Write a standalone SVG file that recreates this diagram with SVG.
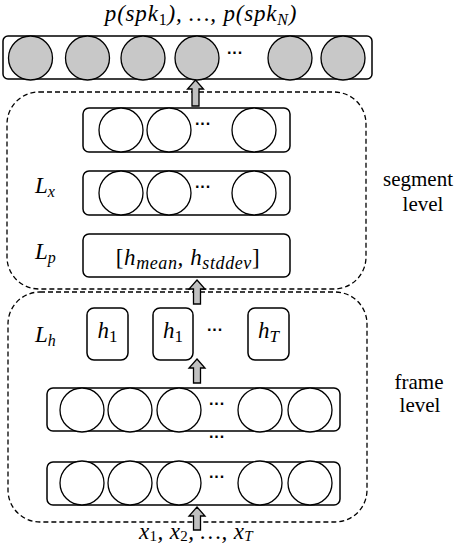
<svg xmlns="http://www.w3.org/2000/svg" width="458" height="546" viewBox="0 0 458 546">
<style>
.box{fill:#fff;stroke:#000;stroke-width:1.5}
.dash{fill:none;stroke:#000;stroke-width:1.3;stroke-dasharray:5 3}
.c{fill:#fff;stroke:#000;stroke-width:1.3}
.g{fill:#c8c8c8;stroke:#000;stroke-width:1.3}
.arr{fill:#c0c0c0;stroke:#000;stroke-width:1.3;stroke-linejoin:miter}
.m{font-family:"Liberation Serif","DejaVu Serif",serif;font-style:italic;font-size:23px;fill:#000}
.t{font-family:"Liberation Serif","DejaVu Serif",serif;font-size:21px;fill:#000}
.up{font-style:normal}
.dots{font-family:"Liberation Sans",sans-serif;font-size:16px;font-weight:bold;fill:#000}
</style>
<rect width="458" height="546" fill="#fff"/>

<g id="output-layer">
<text class="m" x="201" y="21" text-anchor="middle" font-size="24" letter-spacing="0.8">p(spk<tspan class="up" font-size="16" dy="4">1</tspan><tspan dy="-4">), …, p(spk</tspan><tspan font-size="16" dy="4">N</tspan><tspan dy="-4">)</tspan></text>
<rect class="box" x="3" y="36" width="369" height="43" rx="5"/>
<circle class="g" cx="30.5" cy="58" r="22"/>
<circle class="g" cx="87.5" cy="58" r="22"/>
<circle class="g" cx="143" cy="58" r="22"/>
<circle class="g" cx="197" cy="58" r="22"/>
<text class="dots" x="235" y="58" text-anchor="middle">···</text>
<circle class="g" cx="290" cy="58" r="22"/>
<circle class="g" cx="343" cy="58" r="22"/>
</g>

<g id="segment-level">
<rect class="dash" x="7" y="92" width="359" height="197" rx="32"/>
<text class="t" x="418" y="186" text-anchor="middle">segment</text>
<text class="t" x="423" y="211" text-anchor="middle">level</text>
</g>

<g id="segment-layer-top">
<rect class="box" x="83" y="108" width="207" height="44" rx="6"/>
<circle class="c" cx="121" cy="130" r="22"/>
<circle class="c" cx="169" cy="130" r="22"/>
<text class="dots" x="203" y="129" text-anchor="middle">···</text>
<circle class="c" cx="254" cy="130" r="22"/>
</g>

<g id="segment-layer-Lx">
<text class="m" x="35" y="193">L<tspan font-size="16" dy="4">x</tspan></text>
<rect class="box" x="83" y="171" width="207" height="44" rx="6"/>
<circle class="c" cx="121" cy="193" r="22"/>
<circle class="c" cx="169" cy="193" r="22"/>
<text class="dots" x="203" y="192" text-anchor="middle">···</text>
<circle class="c" cx="254" cy="193" r="22"/>
</g>

<g id="pooling-Lp">
<text class="m" x="35" y="259">L<tspan font-size="16" dy="4">p</tspan></text>
<rect class="box" x="83" y="234" width="207" height="43" rx="6"/>
<text class="m" x="188" y="265" text-anchor="middle" font-size="25" letter-spacing="0.6"><tspan class="up">[</tspan>h<tspan font-size="18" dy="4">mean</tspan><tspan dy="-4">, h</tspan><tspan font-size="18" dy="4">stddev</tspan><tspan class="up" dy="-4">]</tspan></text>
</g>

<g id="frame-level">
<rect class="dash" x="8" y="292" width="359" height="230" rx="32"/>
<text class="t" x="419" y="389" text-anchor="middle">frame</text>
<text class="t" x="420" y="412" text-anchor="middle">level</text>
</g>

<g id="frame-Lh">
<text class="m" x="35" y="342">L<tspan font-size="16" dy="4">h</tspan></text>
<rect class="box" x="87" y="308" width="41" height="52" rx="7"/>
<text class="m" x="107.5" y="338" text-anchor="middle" font-size="24">h<tspan class="up" font-size="17" dy="4">1</tspan></text>
<rect class="box" x="153" y="308" width="40" height="52" rx="7"/>
<text class="m" x="173" y="338" text-anchor="middle" font-size="24">h<tspan class="up" font-size="17" dy="4">1</tspan></text>
<text class="dots" x="215" y="335" text-anchor="middle">···</text>
<rect class="box" x="248" y="308" width="41" height="52" rx="7"/>
<text class="m" x="268.5" y="338" text-anchor="middle" font-size="24">h<tspan font-size="17" dy="4">T</tspan></text>
</g>

<g id="frame-layer-1">
<rect class="box" x="47" y="388" width="293" height="43" rx="6"/>
<circle class="c" cx="82" cy="410" r="22"/>
<circle class="c" cx="130" cy="410" r="22"/>
<circle class="c" cx="179" cy="410" r="22"/>
<text class="dots" x="217" y="409" text-anchor="middle">···</text>
<circle class="c" cx="260" cy="410" r="22"/>
<circle class="c" cx="310" cy="410" r="22"/>
<text class="dots" x="217" y="442" text-anchor="middle">···</text>
</g>

<g id="frame-layer-2">
<rect class="box" x="47" y="462" width="293" height="43" rx="6"/>
<circle class="c" cx="82" cy="483" r="22"/>
<circle class="c" cx="130" cy="483" r="22"/>
<circle class="c" cx="179" cy="483" r="22"/>
<text class="dots" x="217" y="482" text-anchor="middle">···</text>
<circle class="c" cx="260" cy="483" r="22"/>
<circle class="c" cx="310" cy="483" r="22"/>
</g>

<g id="input">
<text class="m" x="196" y="539" text-anchor="middle" font-size="24" letter-spacing="0.4">x<tspan class="up" font-size="15" dy="2">1</tspan><tspan dy="-2">, x</tspan><tspan class="up" font-size="15" dy="2">2</tspan><tspan dy="-2">, …, x</tspan><tspan font-size="15" dy="2">T</tspan></text>
</g>

<g id="connectors">
<path class="arr" d="M195.5,80 L203.5,89 L199,89 L199,106 L192,106 L192,89 L187.5,89 Z"/>
<path class="arr" d="M197,280 L205,289 L200.5,289 L200.5,304 L193.5,304 L193.5,289 L189,289 Z"/>
<path class="arr" d="M197,359 L205,368 L200.5,368 L200.5,383 L193.5,383 L193.5,368 L189,368 Z"/>
<path class="arr" d="M197,507 L205,516 L200.5,516 L200.5,530 L193.5,530 L193.5,516 L189,516 Z"/>
</g>
</svg>
